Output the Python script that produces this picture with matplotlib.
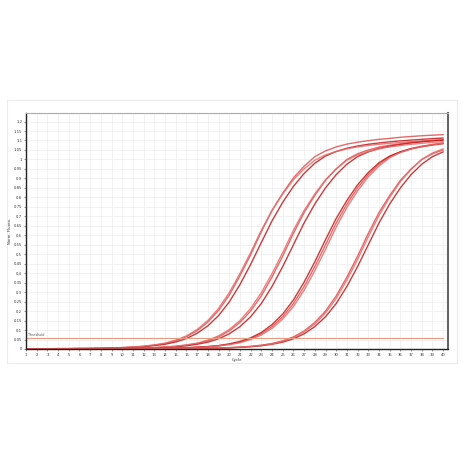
import matplotlib
matplotlib.use("Agg")
import matplotlib.pyplot as plt

cycles = list(range(1, 41))

# Group 1 (earliest)
g1a = [0.000, 0.001, 0.001, 0.002, 0.002, 0.003, 0.003, 0.004, 0.005, 0.007,
       0.010, 0.014, 0.020, 0.029, 0.044, 0.065, 0.096, 0.142, 0.203, 0.284,
       0.386, 0.497, 0.619, 0.731, 0.822, 0.903, 0.964, 1.015, 1.045, 1.066,
       1.081, 1.091, 1.099, 1.106, 1.111, 1.117, 1.121, 1.125, 1.128, 1.131]
g1b = [0.000, 0.001, 0.001, 0.002, 0.002, 0.003, 0.003, 0.004, 0.005, 0.006,
       0.009, 0.012, 0.018, 0.025, 0.037, 0.055, 0.083, 0.122, 0.176, 0.248,
       0.340, 0.446, 0.562, 0.676, 0.774, 0.858, 0.926, 0.980, 1.018, 1.042,
       1.059, 1.071, 1.080, 1.087, 1.093, 1.098, 1.102, 1.106, 1.110, 1.113]
g1c = [0.000, 0.001, 0.001, 0.002, 0.002, 0.003, 0.003, 0.004, 0.005, 0.008,
       0.011, 0.015, 0.022, 0.031, 0.047, 0.069, 0.103, 0.150, 0.214, 0.297,
       0.398, 0.509, 0.626, 0.731, 0.818, 0.893, 0.950, 0.996, 1.024, 1.042,
       1.056, 1.066, 1.074, 1.080, 1.085, 1.090, 1.094, 1.098, 1.100, 1.103]

# Group 2
g2a = [0.000, 0.000, 0.000, 0.000, 0.001, 0.001, 0.002, 0.002, 0.003, 0.003,
       0.004, 0.005, 0.007, 0.010, 0.014, 0.020, 0.029, 0.043, 0.064, 0.095,
       0.140, 0.200, 0.280, 0.380, 0.490, 0.610, 0.720, 0.810, 0.890, 0.950,
       1.000, 1.030, 1.050, 1.065, 1.075, 1.083, 1.090, 1.095, 1.100, 1.104]
g2b = [0.000, 0.000, 0.000, 0.000, 0.001, 0.001, 0.002, 0.002, 0.003, 0.003,
       0.004, 0.005, 0.006, 0.009, 0.012, 0.017, 0.025, 0.036, 0.054, 0.080,
       0.118, 0.170, 0.240, 0.330, 0.435, 0.550, 0.665, 0.765, 0.850, 0.920,
       0.975, 1.015, 1.040, 1.058, 1.070, 1.079, 1.087, 1.093, 1.098, 1.102]
g2c = [0.000, 0.000, 0.000, 0.000, 0.001, 0.001, 0.002, 0.002, 0.003, 0.003,
       0.004, 0.005, 0.008, 0.011, 0.015, 0.022, 0.031, 0.047, 0.069, 0.103,
       0.150, 0.214, 0.297, 0.398, 0.509, 0.626, 0.731, 0.818, 0.893, 0.950,
       0.996, 1.024, 1.042, 1.056, 1.066, 1.073, 1.080, 1.085, 1.090, 1.094]

# Group 3
g3a = [0.000, 0.000, 0.000, 0.000, 0.000, 0.000, 0.000, 0.001, 0.001, 0.002,
       0.002, 0.003, 0.003, 0.004, 0.005, 0.006, 0.009, 0.012, 0.017, 0.025,
       0.036, 0.054, 0.080, 0.118, 0.170, 0.240, 0.330, 0.435, 0.550, 0.665,
       0.765, 0.850, 0.920, 0.975, 1.015, 1.040, 1.058, 1.070, 1.079, 1.087]
g3b = [0.000, 0.000, 0.000, 0.000, 0.000, 0.000, 0.000, 0.001, 0.001, 0.002,
       0.002, 0.003, 0.003, 0.004, 0.005, 0.007, 0.010, 0.013, 0.018, 0.027,
       0.040, 0.059, 0.087, 0.129, 0.184, 0.259, 0.353, 0.460, 0.577, 0.689,
       0.784, 0.866, 0.931, 0.983, 1.018, 1.040, 1.056, 1.067, 1.076, 1.083]
g3c = [0.000, 0.000, 0.000, 0.000, 0.000, 0.000, 0.000, 0.000, 0.001, 0.001,
       0.002, 0.002, 0.003, 0.003, 0.004, 0.005, 0.008, 0.011, 0.016, 0.023,
       0.033, 0.050, 0.074, 0.109, 0.158, 0.224, 0.310, 0.413, 0.526, 0.643,
       0.747, 0.834, 0.908, 0.965, 1.009, 1.036, 1.055, 1.068, 1.078, 1.086]

# Group 4 (latest)
g4a = [0.000, 0.000, 0.000, 0.000, 0.000, 0.000, 0.000, 0.000, 0.000, 0.000,
       0.000, 0.001, 0.001, 0.002, 0.002, 0.003, 0.003, 0.004, 0.005, 0.007,
       0.010, 0.014, 0.020, 0.029, 0.043, 0.064, 0.095, 0.140, 0.200, 0.280,
       0.380, 0.490, 0.610, 0.720, 0.810, 0.890, 0.950, 1.000, 1.030, 1.050]
g4b = [0.000, 0.000, 0.000, 0.000, 0.000, 0.000, 0.000, 0.000, 0.000, 0.000,
       0.000, 0.001, 0.001, 0.002, 0.002, 0.003, 0.003, 0.004, 0.005, 0.006,
       0.009, 0.012, 0.017, 0.025, 0.036, 0.054, 0.080, 0.118, 0.170, 0.240,
       0.330, 0.435, 0.550, 0.665, 0.765, 0.850, 0.920, 0.975, 1.015, 1.040]
g4c = [0.000, 0.000, 0.000, 0.000, 0.000, 0.000, 0.000, 0.000, 0.000, 0.000,
       0.000, 0.001, 0.001, 0.002, 0.002, 0.003, 0.003, 0.004, 0.005, 0.007,
       0.009, 0.013, 0.019, 0.027, 0.041, 0.060, 0.090, 0.132, 0.190, 0.267,
       0.364, 0.473, 0.592, 0.705, 0.800, 0.883, 0.947, 1.000, 1.034, 1.056]

curves = [g1a, g1b, g1c, g2a, g2b, g2c, g3a, g3b, g3c, g4a, g4b, g4c]
curve_colors = ["#e25050", "#c41818", "#e86a6a"] * 4

threshold = 0.058
y_tick_values = [i * 0.05 for i in range(25)]
y_tick_labels = ["0", "0.05", "0.1", "0.15", "0.2", "0.25", "0.3", "0.35", "0.4",
                 "0.45", "0.5", "0.55", "0.6", "0.65", "0.7", "0.75", "0.8", "0.85",
                 "0.9", "0.95", "1", "1.05", "1.1", "1.15", "1.2"]
x_tick_values = list(range(1, 41))

fig = plt.figure(figsize=(4.74, 4.74), dpi=100)
fig.patch.set_facecolor("white")

# faint outer panel frame
frame = fig.add_axes([0.015, 0.235, 0.95, 0.555])
frame.set_xticks([]); frame.set_yticks([])
frame.patch.set_alpha(0)
for s in frame.spines.values():
    s.set_color("#ececec"); s.set_linewidth(0.8)

ax = fig.add_axes([26/474, 1-349/474, (448-26)/474, (349-113)/474])
ax.set_xlim(1, 40.45)
ax.set_ylim(0, 1.245)

ax.set_xticks(x_tick_values)
ax.set_xticklabels([str(v) for v in x_tick_values], fontsize=2.7, color="#333333")
ax.set_yticks(y_tick_values)
ax.set_yticklabels(y_tick_labels, fontsize=2.7, color="#333333")
ax.tick_params(axis="both", length=1.2, width=0.4, pad=1.5, color="#555555")

ax.grid(True, color="#ededed", linewidth=0.5)
ax.set_axisbelow(True)

for vals, col in zip(curves, curve_colors):
    ax.plot(cycles, vals, color=col, linewidth=1.0, alpha=0.85, solid_capstyle="round")

ax.plot([1, 40], [threshold, threshold], color="#e89a80", linewidth=0.8)
ax.text(1.2, threshold + 0.006, "Threshold", fontsize=2.4, color="#555555", va="bottom", ha="left")

ax.set_xlabel("Cycle", fontsize=2.7, labelpad=1.0, color="#333333")
ax.set_ylabel("Norm. Fluoro.", fontsize=2.7, labelpad=1.5, color="#333333")

ax.spines["left"].set_color("#222222"); ax.spines["left"].set_linewidth(1.0)
ax.spines["bottom"].set_color("#222222"); ax.spines["bottom"].set_linewidth(1.0)
ax.spines["top"].set_color("#aaaaaa"); ax.spines["top"].set_linewidth(0.8)
ax.spines["right"].set_color("#666666"); ax.spines["right"].set_linewidth(1.5)

fig.savefig("out.png", dpi=100, facecolor="white")
